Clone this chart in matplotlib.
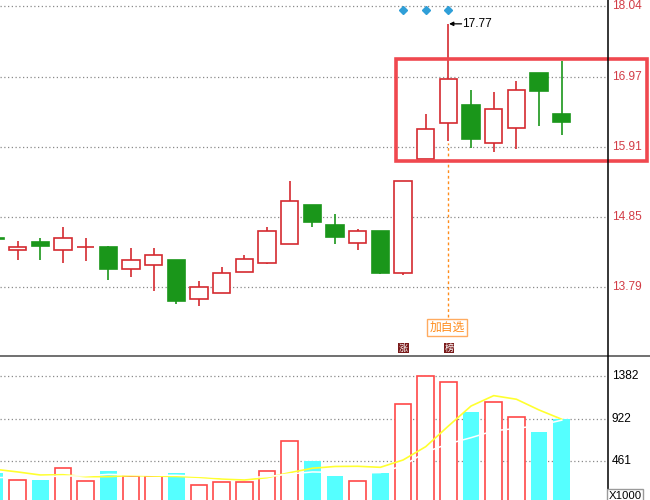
import numpy as np
import matplotlib
matplotlib.use('Agg')
import matplotlib.pyplot as plt
from matplotlib.patches import Rectangle
from matplotlib.lines import Line2D

plt.rcParams['font.family'] = ['Liberation Sans', 'Noto Sans CJK SC', 'DejaVu Sans']

# Datos
opens = [14.53, 14.34, 14.47, 14.34, 14.39, 14.39, 14.05, 14.12, 14.20, 13.60, 13.69, 14.01, 14.15,
         14.44, 15.03, 14.73, 14.45, 14.63, 13.99, 15.72, 16.27, 16.54, 15.96, 16.19, 17.02, 16.41]
closes = [14.51, 14.39, 14.40, 14.53, 14.39, 14.06, 14.20, 14.27, 13.58, 13.79, 14.00, 14.21, 14.63,
          15.09, 14.77, 14.54, 14.63, 13.99, 15.39, 16.18, 16.94, 16.02, 16.48, 16.77, 16.75, 16.29]
highs = [14.55, 14.48, 14.53, 14.70, 14.53, 14.41, 14.38, 14.38, 14.20, 13.88, 14.09, 14.27, 14.70,
         15.39, 15.03, 14.89, 14.66, 14.63, 15.39, 16.41, 17.77, 16.77, 16.74, 16.90, 17.02, 17.21]
lows = [14.50, 14.19, 14.19, 14.15, 14.18, 13.89, 13.93, 13.73, 13.53, 13.49, 13.69, 14.01, 14.14,
        14.44, 14.69, 14.44, 14.34, 13.98, 13.96, 15.72, 15.99, 15.89, 15.83, 15.87, 16.23, 16.09]
volumes = [338, 256, 259, 389, 245, 353, 299, 299, 331, 205, 234, 234, 360,
           680, 464, 302, 245, 331, 1077, 1382, 1321, 994, 1105, 943, 781, 915]
vol_ma5 = [375, 346, 313, 316, 295, 295, 306, 302, 297, 288, 270, 259, 284,
           338, 386, 405, 407, 396, 475, 619, 842, 1058, 1170, 1131, 1015, 915]
vol_ma10 = [284, 290, 295, 300, 305, 320, 315, 310, 310, 300, 287, 285, 295,
            324, 346, 341, 335, 339, 413, 560, 650, 716, 790, 816, 848, 905]
price_ticks = [18.04, 16.97, 15.91, 14.85, 13.79]
vol_ticks = [1382, 922, 461]
high_label = '17.77'
high_idx = 20
marker_idx = [18, 19, 20]
tag_idx = {18: '涨', 20: '榜'}

red = '#d42a30'
green = '#1a961a'
vol_red = '#ff4848'
cyan = '#55ffff'
label_red = '#d23c46'

fig = plt.figure(figsize=(6.5, 5), dpi=100)
axw = 607 / 650
ax = fig.add_axes([0, 1 - 356 / 500, axw, 356 / 500])
axv = fig.add_axes([0, 0, axw, 144 / 500])

xs = np.arange(len(opens))
xmin = 5 / 22.67
xmax = xmin + 607 / 22.67

# Panel de precios
for a in (ax, axv):
    a.set_xlim(xmin, xmax)
    for s in a.spines.values():
        s.set_visible(False)
    a.set_xticks([])
    a.set_yticks([])
    a.patch.set_alpha(0)

ax.set_ylim(12.74, 18.131)
for t in price_ticks:
    ax.axhline(t, color='#8a8a8a', lw=0.9, ls=(0, (1, 2)), zorder=0)
    ax.text(1.008, t, f'{t:.2f}', transform=ax.get_yaxis_transform(), color=label_red,
            fontsize=8.6, va='center', ha='left', clip_on=False)

w = 0.76
for x, o, c, h, l in zip(xs, opens, closes, highs, lows):
    up = c >= o
    col = red if up else green
    ax.vlines(x, l, h, color=col, lw=1.2, zorder=2)
    bottom = min(o, c)
    ax.add_patch(Rectangle((x - w / 2, bottom), w, abs(c - o),
                           facecolor='white' if up else green, edgecolor=col,
                           lw=1.2, zorder=3))

ax.plot([xs[i] for i in marker_idx], [17.975] * len(marker_idx), 'D', color='#2f9fd8',
        ms=4.2, zorder=4)

ax.annotate('', xy=(high_idx + 0.03, highs[high_idx]), xytext=(high_idx + 0.58, highs[high_idx]),
            arrowprops=dict(arrowstyle='-|>', color='black', lw=0.9, mutation_scale=6,
                            shrinkA=0, shrinkB=0))
ax.text(high_idx + 0.6, highs[high_idx], high_label, fontsize=8.6, va='center', ha='left')

ax.vlines(high_idx, 13.33, lows[high_idx] - 0.02, color='#ff8c1a', lw=1, ls=(0, (2, 2)))
ax.text(high_idx - 0.05, 13.17, '加自选', fontsize=8.5, color='#ff8c1a', ha='center', va='center',
        family=['Noto Sans CJK SC', 'DejaVu Sans'],
        bbox=dict(boxstyle='square,pad=0.2', facecolor='white', edgecolor='#ffab60', lw=1))
for i, s in tag_idx.items():
    ax.text(xs[i] + 0.02, 12.86, s, fontsize=6.5, color='white', ha='center', va='center',
            family=['Noto Sans CJK SC', 'DejaVu Sans'],
            bbox=dict(boxstyle='square,pad=0.08', facecolor='#7a1a1a', edgecolor='none'))

# Panel de volumen
axv.set_ylim(43, 1598)
for t in vol_ticks:
    axv.axhline(t, color='#8a8a8a', lw=0.9, ls=(0, (1, 2)), zorder=0)
    axv.text(1.008, t, str(t), transform=axv.get_yaxis_transform(), color='black',
             fontsize=8.6, va='center', ha='left', clip_on=False)

bw = 0.73
for x, o, c, v in zip(xs, opens, closes, volumes):
    if c >= o:
        axv.add_patch(Rectangle((x - bw / 2, 0), bw, v, facecolor='white', edgecolor=vol_red,
                                lw=1.2, zorder=2))
    else:
        axv.add_patch(Rectangle((x - bw / 2, 0), bw, v, facecolor=cyan, edgecolor='none',
                                zorder=2))
axv.plot(xs, vol_ma5, color='#ffff30', lw=1.2, zorder=3)
axv.plot(xs, vol_ma10, color='white', lw=1.1, zorder=4)

fig.text(625 / 650, 4 / 500, 'X1000', fontsize=8.2, ha='center', va='center',
         bbox=dict(boxstyle='square,pad=0.15', facecolor='white', edgecolor='#9a9a9a', lw=1))

# Lineas del marco
fig.add_artist(Line2D([0, 1], [1 - 356 / 500] * 2, color='#707070', lw=1.4))
fig.add_artist(Line2D([axw + 0.5 / 650] * 2, [0, 1], color='black', lw=1.1))
fig.add_artist(Rectangle((395.8 / 650, 1 - 161 / 500), 251 / 650, 102 / 500, fill=False,
                         edgecolor='#f0484f', lw=2.6))

fig.savefig('out.png', dpi=100)
